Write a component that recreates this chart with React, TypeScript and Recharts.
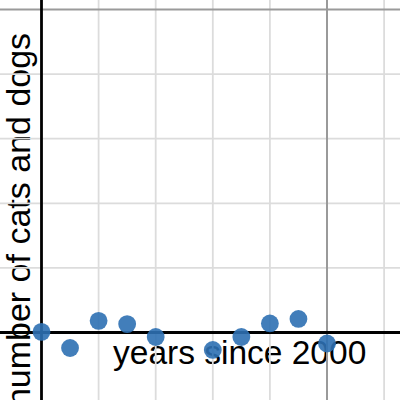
import { ScatterChart, Scatter, XAxis, YAxis, ReferenceLine } from "recharts"

// years since 2000 and the (shifted) count
const years = [0, 1, 2, 3, 4, 6, 7, 8, 9, 10]
const counts = [0.1, -2.4, 1.8, 1.3, -0.7, -2.7, -0.7, 1.4, 2.1, -1.7]

const xMinor = [2, 4, 6, 8, 12]
const xMajor = [10]
const yMinor = [10, 20, 30, 40]
const yMajor = [50]

const X_DOMAIN: [number, number] = [-1.4536, 12.557]
const Y_DOMAIN: [number, number] = [-10.45, 51.47]

const data = years.map((y, i) => ({ x: y, y: counts[i] }))

const FONT = "'Liberation Sans', Arial, sans-serif"

const dot = (props: any) => (
  <circle cx={props.cx} cy={props.cy} r={8.9} fill="#2d70b3" fillOpacity={0.9} />
)

export default function App() {
  return (
    <div style={{ width: 400, height: 400, position: "relative", background: "#fff" }}>
      <style>{"body{margin:0}"}</style>
      <ScatterChart width={400} height={400} margin={{ top: 0, right: 0, bottom: 0, left: 0 }}>
        <XAxis type="number" dataKey="x" domain={X_DOMAIN} allowDataOverflow hide />
        <YAxis type="number" dataKey="y" domain={Y_DOMAIN} allowDataOverflow hide />

        {xMinor.map(v => (
          <ReferenceLine key={`xm${v}`} x={v} stroke="#dcdcdc" strokeWidth={1.8} />
        ))}
        {yMinor.map(v => (
          <ReferenceLine key={`ym${v}`} y={v} stroke="#dcdcdc" strokeWidth={1.8} />
        ))}
        {xMajor.map(v => (
          <ReferenceLine key={`xM${v}`} x={v} stroke="#9a9a9a" strokeWidth={2} />
        ))}
        {yMajor.map(v => (
          <ReferenceLine key={`yM${v}`} y={v} stroke="#9a9a9a" strokeWidth={2} />
        ))}
        <ReferenceLine x={0} stroke="#000" strokeWidth={2.8} />
        <ReferenceLine y={0} stroke="#000" strokeWidth={2.8} />

        <text x={113} y={364} fontSize={33.5} fontFamily={FONT} fill="#000">
          years since 2000
        </text>
        <text
          x={30}
          y={220}
          fontSize={34}
          fontFamily={FONT}
          fill="#000"
          textAnchor="middle"
          transform="rotate(-90 30 220)"
        >
          number of cats and dogs
        </text>

        <Scatter data={data} shape={dot} isAnimationActive={false} />
      </ScatterChart>
    </div>
  )
}
